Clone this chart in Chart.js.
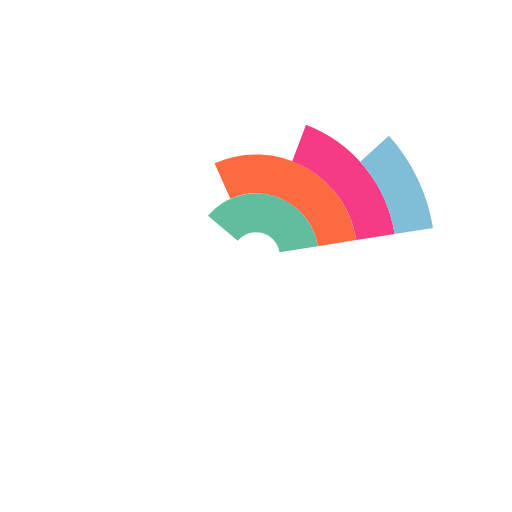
<!DOCTYPE html>
<html>
<head>
<meta charset="utf-8">
<script src="https://cdn.jsdelivr.net/npm/chart.js@4"></script>
<style>
html,body{margin:0;padding:0;background:#fff;}
#wrap{width:512px;height:512px;}
</style>
</head>
<body>
<div id="wrap"><canvas id="c" width="512" height="512"></canvas></div>
<script>
// Series (outer ring first): share of full circle, in percent
const seriesNames = ['Blue', 'Pink', 'Orange', 'Green'];
const seriesValues = [9.2, 16.7, 29.2, 36.4];
const seriesColors = ['#7fbdd9', '#f43b83', '#fc6a3f', '#63bc9d'];
const fullScale = 100;

const datasets = seriesNames.map((name, i) => ({
  label: name,
  data: [fullScale - seriesValues[i], seriesValues[i]],
  backgroundColor: ['rgba(0,0,0,0)', seriesColors[i]],
  borderWidth: 0
}));

new Chart(document.getElementById('c'), {
  type: 'doughnut',
  data: { labels: ['rest', 'value'], datasets },
  options: {
    responsive: false,
    animation: false,
    rotation: 81,
    circumference: 360,
    radius: '70%',
    cutout: '13.3%',
    plugins: { legend: { display: false }, tooltip: { enabled: false } }
  }
});
</script>
</body>
</html>
